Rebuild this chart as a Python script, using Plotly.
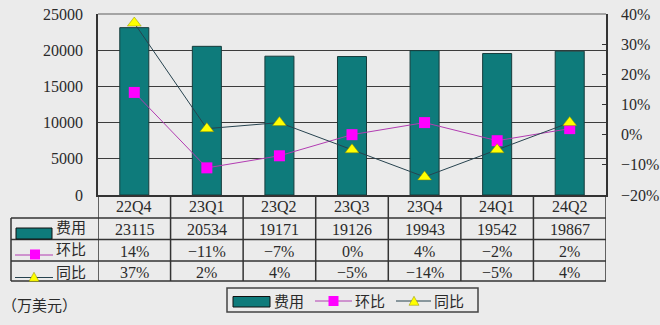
import plotly.graph_objects as go

# ---------------- data ----------------
categories = ["22Q4", "23Q1", "23Q2", "23Q3", "23Q4", "24Q1", "24Q2"]
expense = [23115, 20534, 19171, 19126, 19943, 19542, 19867]      # 费用 (万美元)
qoq = [14, -11, -7, 0, 4, -2, 2]                                  # 环比 %
yoy = [37, 2, 4, -5, -14, -5, 4]                                  # 同比 %
series_names = ["费用", "环比", "同比"]
unit_label = "（万美元）"

# ---------------- style ----------------
W, H = 660, 325
L, R, T, B = 98, 54, 14, 130
PW, PH = W - L - R, H - T - B
BG = "#ebebeb"
TEAL = "#0e7b7b"
MAG = "#ff00ff"
MAG_LINE = "#b23cb2"
YOY_LINE = "#27434f"
YEL = "#ffff00"
GRID = "#3c3c3c"
TXT = "#2a2a2a"
FONT = "Liberation Serif, Noto Sans CJK SC"
CJK = "Noto Sans CJK SC"


def fx(px):
    return (px - L) / PW


def fy(py):
    return (T + PH - py) / PH


def fmt_pct(v):
    return ("−" + str(abs(v)) if v < 0 else str(v)) + "%"


fig = go.Figure()
fig.add_trace(go.Bar(
    x=categories, y=expense, name=series_names[0], width=0.4,
    marker=dict(color=TEAL, line=dict(color="#173c3c", width=1)),
    showlegend=False,
))
fig.add_trace(go.Scatter(
    x=categories, y=qoq, name=series_names[1], yaxis="y2", mode="lines+markers",
    line=dict(color=MAG_LINE, width=1),
    marker=dict(symbol="square", size=11, color=MAG, line=dict(width=0)),
    showlegend=False,
))
fig.add_trace(go.Scatter(
    x=categories, y=yoy, name=series_names[2], yaxis="y2", mode="lines+markers",
    line=dict(color=YOY_LINE, width=1),
    marker=dict(symbol="triangle-up", size=12, color=YEL, line=dict(color="#8a8a00", width=0.5)),
    showlegend=False,
))

shapes = []
annotations = []
LC = "#333333"

# plot top border
shapes.append(dict(type="line", xref="paper", yref="paper", x0=0, x1=1, y0=1, y1=1,
                   line=dict(color="#8c8c8c", width=1.5)))

# table geometry (pixel rows)
row_lines = [218, 239.5, 261, 281]
left_x = 11
for ry in row_lines:
    shapes.append(dict(type="line", xref="paper", yref="paper",
                       x0=fx(left_x), x1=1, y0=fy(ry), y1=fy(ry),
                       line=dict(color=LC, width=1.5)))
n = len(categories)
for k in range(n + 1):
    shapes.append(dict(type="line", xref="x", yref="paper",
                       x0=k - 0.5, x1=k - 0.5, y0=fy(195), y1=fy(281),
                       line=dict(color=LC, width=1.5)))
shapes.append(dict(type="line", xref="paper", yref="paper",
                   x0=fx(left_x), x1=fx(left_x), y0=fy(218), y1=fy(281),
                   line=dict(color=LC, width=1.5)))


def ann(x, y, text, xref="paper", xanchor="center", font=FONT, size=16):
    return dict(x=x, y=y, xref=xref, yref="paper", text=text, showarrow=False,
                xanchor=xanchor, yanchor="middle",
                font=dict(family=font, size=size, color=TXT))


cat_y = 206
row_y = [229.5, 251, 272]
for i, c in enumerate(categories):
    annotations.append(ann(c, fy(cat_y), c, xref="x"))
    annotations.append(ann(c, fy(row_y[0]), str(expense[i]), xref="x"))
    annotations.append(ann(c, fy(row_y[1]), fmt_pct(qoq[i]), xref="x"))
    annotations.append(ann(c, fy(row_y[2]), fmt_pct(yoy[i]), xref="x"))

label_y = [226, 249, 271]
for j, nm in enumerate(series_names):
    annotations.append(ann(fx(54), fy(label_y[j]), nm, xanchor="left", font=CJK, size=15))

shapes.append(dict(type="rect", xref="paper", yref="paper", x0=fx(16), x1=fx(52),
                   y0=fy(239), y1=fy(228), fillcolor=TEAL, line=dict(color="#111", width=1)))
shapes.append(dict(type="line", xref="paper", yref="paper", x0=fx(15), x1=fx(53),
                   y0=fy(255), y1=fy(255), line=dict(color=MAG_LINE, width=1)))
shapes.append(dict(type="rect", xref="paper", yref="paper", x0=fx(30), x1=fx(40),
                   y0=fy(259.5), y1=fy(249.5), fillcolor=MAG, line=dict(width=0)))
shapes.append(dict(type="line", xref="paper", yref="paper", x0=fx(15), x1=fx(53),
                   y0=fy(277.5), y1=fy(277.5), line=dict(color=YOY_LINE, width=1)))


def tri_path(cx, cy, s):
    x0, x1, x2 = fx(cx - s), fx(cx + s), fx(cx)
    y0, y2 = fy(cy + s * 0.85), fy(cy - s * 0.95)
    return f"M {x0} {y0} L {x1} {y0} L {x2} {y2} Z"


shapes.append(dict(type="path", xref="paper", yref="paper", path=tri_path(34, 277, 5),
                   fillcolor=YEL, line=dict(color="#8a8a00", width=0.5)))

# bottom legend box
shapes.append(dict(type="rect", xref="paper", yref="paper", x0=fx(227), x1=fx(478),
                   y0=fy(312), y1=fy(288), line=dict(color="#444", width=1.5)))
shapes.append(dict(type="rect", xref="paper", yref="paper", x0=fx(233), x1=fx(270),
                   y0=fy(307), y1=fy(296.5), fillcolor=TEAL, line=dict(color="#111", width=1)))
shapes.append(dict(type="line", xref="paper", yref="paper", x0=fx(315), x1=fx(352),
                   y0=fy(301), y1=fy(301), line=dict(color=MAG_LINE, width=1)))
shapes.append(dict(type="rect", xref="paper", yref="paper", x0=fx(328.5), x1=fx(338.5),
                   y0=fy(306), y1=fy(296), fillcolor=MAG, line=dict(width=0)))
shapes.append(dict(type="line", xref="paper", yref="paper", x0=fx(396), x1=fx(431),
                   y0=fy(301), y1=fy(301), line=dict(color=YOY_LINE, width=1)))
shapes.append(dict(type="path", xref="paper", yref="paper", path=tri_path(414, 301, 5),
                   fillcolor=YEL, line=dict(color="#8a8a00", width=0.5)))
leg_x = [272, 352.5, 432]
for j, nm in enumerate(series_names):
    annotations.append(ann(fx(leg_x[j]), fy(300), nm, xanchor="left", font=CJK, size=15))

annotations.append(ann(fx(0), fy(304), unit_label, xanchor="left", font=CJK, size=15))

fig.update_layout(
    width=W, height=H,
    margin=dict(l=L, r=R, t=T, b=B, pad=0, autoexpand=False),
    paper_bgcolor=BG, plot_bgcolor=BG,
    showlegend=False,
    font=dict(family=FONT, size=16, color=TXT),
    xaxis=dict(type="category", range=[-0.5, n - 0.5], showticklabels=False, ticks="",
               showgrid=False, showline=True, linecolor=LC, linewidth=1.5, zeroline=False,
               automargin=False),
    yaxis=dict(range=[0, 25000], dtick=5000, tickformat="d", showgrid=True, gridcolor=GRID,
               gridwidth=1, showline=True, linecolor=LC, linewidth=1.5, ticks="",
               zeroline=False, tickfont=dict(family=FONT, size=16, color=TXT),
               ticklabelstandoff=10, automargin=False),
    yaxis2=dict(range=[-20, 40], dtick=10, overlaying="y", side="right", showgrid=False,
                showline=True, linecolor=LC, linewidth=1.5, ticks="inside", ticklen=4,
                tickcolor=LC, ticksuffix="%", zeroline=False,
                tickfont=dict(family=FONT, size=16, color=TXT), ticklabelstandoff=10,
                automargin=False),
    shapes=shapes,
    annotations=annotations,
)

fig.write_html("out.html")
